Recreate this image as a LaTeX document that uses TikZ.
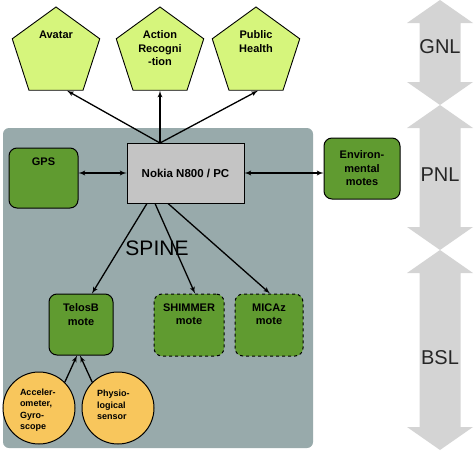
\documentclass[tikz,border=0pt]{standalone}
\usepackage{fontspec}
\setmainfont{Liberation Sans}
\usetikzlibrary{shapes,arrows,positioning,calc}
\definecolor{panelgray}{RGB}{152,170,171}
\definecolor{goalgreen}{RGB}{214,245,124}
\definecolor{motegreen}{RGB}{96,155,48}
\definecolor{sensororange}{RGB}{248,198,92}
\definecolor{hubgray}{RGB}{196,196,196}
\definecolor{layergray}{RGB}{212,212,212}
\tikzset{
panel/.style = {fill=panelgray, rounded corners=6pt},
goal/.style = {draw, fill=goalgreen, regular polygon, regular polygon sides=5, minimum size=92pt, inner sep=0pt, line width=0.9pt},
hub/.style = {draw, fill=hubgray, rectangle, minimum width=117pt, minimum height=60pt, line width=0.9pt, font=\fontsize{11.5}{14}\selectfont\bfseries},
mote/.style = {draw, fill=motegreen, rectangle, rounded corners=8pt, line width=1pt, minimum width=64pt, minimum height=61pt},
dashmote/.style = {mote, dashed},
sensor/.style = {draw, fill=sensororange, circle, minimum size=72pt, inner sep=0pt, line width=1pt},
stext/.style = {align=left, text width=38pt, inner sep=0pt, font=\fontsize{9}{11.5}\selectfont\bfseries},
mtext/.style = {align=center, inner sep=0pt, font=\fontsize{11}{13.5}\selectfont\bfseries},
layer/.style = {fill=layergray},
layertext/.style = {font=\fontsize{20}{24}\selectfont, text=black!85},
link/.style = {line width=1.3pt}
}
\begin{document}
\begin{tikzpicture}[x=1pt, y=-1pt, >=latex']
  \useasboundingbox (0,0) rectangle (474,450);
  \fill[panel] (3,128) rectangle (313,448);

  \foreach \ytop/\ybot/\lname/\ylab in {0/105/GNL/47, 105/250/PNL/175, 250/450/BSL/358} {
    \fill[layer] (440,\ytop) -- (473,\ytop+23) -- (460.5,\ytop+23) -- (460.5,\ybot-23)
      -- (473,\ybot-23) -- (440,\ybot) -- (407,\ybot-23) -- (419.5,\ybot-23)
      -- (419.5,\ytop+23) -- (407,\ytop+23) -- cycle;
    \node[layertext] (l-\lname) at (440,\ylab) {\lname};
  }

  \node[goal] (avatar) at (56,53) {};
  \node[goal] (action) at (160,53) {};
  \node[goal] (health) at (256,53) {};
  \node[mtext, below=24pt of avatar.north] (avatar-t) {Avatar};
  \node[mtext, below=24pt of action.north] (action-t) {Action\\Recogni\\-tion};
  \node[mtext, below=24pt of health.north] (health-t) {Public\\Health};

  \node[hub] (nokia) at (185.5,173) {Nokia N800 / PC};
  \coordinate (fan) at (160,143);

  \node[mote, minimum width=69pt, minimum height=60pt] (gps) at (43.5,178) {};
  \node[mtext, below=10pt of gps.north] (gps-t) {GPS};
  \node[mote, minimum width=76pt] (env) at (362,168.5) {};
  \node[mtext] (env-t) at (env) {Environ-\\mental\\motes};

  \node[mote] (telos) at (81,324.5) {};
  \node[mtext, below=10pt of telos.north] (telos-t) {TelosB\\mote};
  \node[dashmote, minimum width=70pt, minimum height=62pt] (shimmer) at (189,325) {};
  \node[mtext, below=10pt of shimmer.north] (shimmer-t) {SHIMMER\\mote};
  \node[dashmote, minimum width=68pt, minimum height=62pt] (micaz) at (269,325) {};
  \node[mtext, below=10pt of micaz.north] (micaz-t) {MICAz\\mote};

  \node[sensor] (accel) at (39,408) {};
  \node[stext] (accel-t) at (39,410) {Acceler-\\ometer,\\Gyro-\\scope};
  \node[sensor] (physio) at (118,408) {};
  \node[stext] (physio-t) at (116,405) {Physio-\\logical\\sensor};

  \node[font=\fontsize{21}{25}\selectfont] (spine) at (157,248) {SPINE};

  \draw[link,->] (fan) -- ($(avatar.south)+(11,0)$);
  \draw[link,->] (fan) -- (action.south);
  \draw[link,->] (fan) -- ($(health.south)+(2,0)$);
  \draw[link,<->] (nokia.west) -- (nokia.west -| gps.east);
  \draw[link,<->] (nokia.east) -- (nokia.east -| env.west);
  \draw[link,->] ($(nokia.south)+(-38.5,0)$) -- ($(telos.north)+(11,0)$);
  \draw[link,->] ($(nokia.south)+(-30.5,0)$) -- ($(shimmer.north)+(6,0)$);
  \draw[link,->] ($(nokia.south)+(-17.5,0)$) -- ($(micaz.north)+(1,0)$);
  \draw[link,->] (accel.north east) -- ($(telos.south)+(-4,0)$);
  \draw[link,->] (physio.north west) -- ($(telos.south)+(-1,0)$);
\end{tikzpicture}
\end{document}
